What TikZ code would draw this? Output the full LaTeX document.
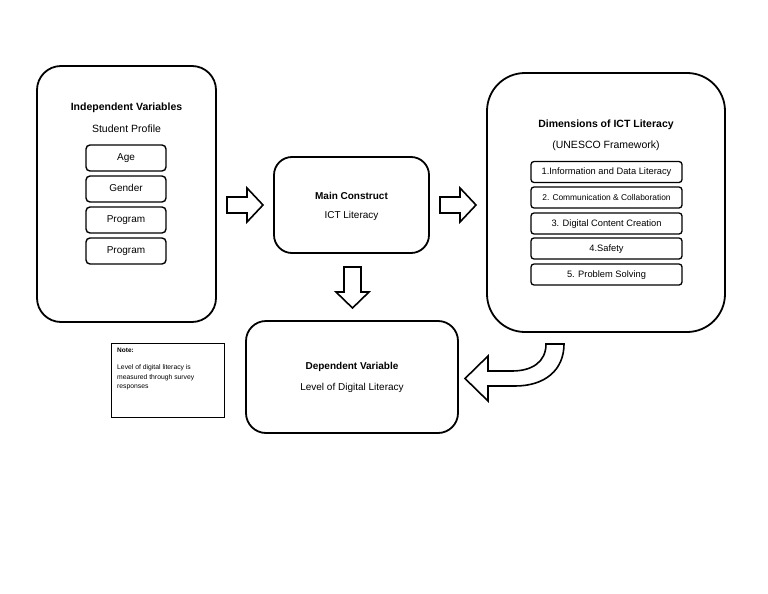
\documentclass[tikz,border=0pt]{standalone}
\usepackage{fontspec}
\setmainfont{Liberation Sans}
\begin{document}
\begin{tikzpicture}[x=1pt,y=-1pt,
  bigbox/.style={draw, line width=1.8pt, rounded corners=#1},
  bigbox/.default=20pt,
  itembox/.style={draw, line width=1.4pt, rounded corners=4pt, minimum width=80pt, minimum height=26pt, inner sep=0pt, text height=7.5pt, text depth=2pt, font=\fontsize{10}{12}\selectfont},
  dimbox/.style={draw, line width=1.3pt, rounded corners=3pt, minimum width=151pt, minimum height=21pt, inner sep=0pt, text height=7pt, text depth=2pt, font=\fontsize{9.3}{11}\selectfont},
  blockarrow/.style={draw, line width=1.6pt, fill=white, line join=miter},
  ttl/.style={font=\bfseries\fontsize{10.5}{12}\selectfont, inner sep=0pt},
  sub/.style={font=\fontsize{10.5}{12}\selectfont, inner sep=0pt}
]
\useasboundingbox (0,0) rectangle (768,594);
\fill[white] (0,0) rectangle (768,594);

% Left box
\draw[bigbox=24pt] (37,66) rectangle (216,322);
\node[ttl] (ivt) at (126.5,108) {Independent Variables};
\node[sub] (ivs) at (126.5,129) {Student Profile};
\node[itembox] (age) at (126,158) {Age};
\node[itembox] (gender) at (126,189) {Gender};
\node[itembox] (prog1) at (126,220) {Program};
\node[itembox] (prog2) at (126,251) {Program};

% Main construct
\draw[bigbox=18pt] (274,157) rectangle (429,253);
\node[ttl, font=\bfseries\fontsize{10}{12}\selectfont] (mct) at (351.5,196) {Main Construct};
\node[sub, font=\fontsize{10}{12}\selectfont] (mcs) at (351.5,216) {ICT Literacy};

% Right box
\draw[bigbox=38pt] (487,73) rectangle (725,332);
\node[ttl] (dimt) at (606,125) {Dimensions of ICT Literacy};
\node[sub] (dims) at (606,146) {(UNESCO Framework)};
\node[dimbox] (d1) at (606.5,172) {1.Information and Data Literacy};
\node[dimbox, font=\fontsize{8.4}{10}\selectfont] (d2) at (606.5,197.5) {2. Communication \& Collaboration};
\node[dimbox] (d3) at (606.5,223.5) {3. Digital Content Creation};
\node[dimbox] (d4) at (606.5,248.5) {4.Safety};
\node[dimbox] (d5) at (606.5,274.5) {5. Problem Solving};

% Dependent box
\draw[bigbox=20pt] (246,321) rectangle (458,433);
\node[ttl, font=\bfseries\fontsize{10}{12}\selectfont] (dvt) at (352,367) {Dependent Variable};
\node[sub, font=\fontsize{10}{12}\selectfont] (dvs) at (352,388) {Level of Digital Literacy};

% Note box
\draw[line width=0.8pt] (111,343) rectangle (224,417);
\node[anchor=north west, inner sep=0pt, font=\bfseries\fontsize{6.5}{8}\selectfont] (notet) at (117,347.5) {Note:};
\node[anchor=north west, inner sep=0pt, align=left, font=\fontsize{6.8}{9.5}\selectfont] (notes) at (117,364.5) {Level of digital literacy is\\measured through survey\\responses};

% Block arrows
\draw[blockarrow] (227,197) -- (247,197) -- (247,188) -- (263,205) -- (247,222) -- (247,213) -- (227,213) -- cycle;
\draw[blockarrow] (440,197) -- (460,197) -- (460,188) -- (476,205) -- (460,222) -- (460,213) -- (440,213) -- cycle;
\draw[blockarrow] (344,267) -- (361,267) -- (361,292) -- (369,292) -- (352.5,308) -- (336,292) -- (344,292) -- cycle;

% Curved arrow
\draw[blockarrow] (546,344) .. controls (546,362) and (532,371) .. (512,371) -- (488,371) -- (488,356) -- (465,378.5) -- (488,401) -- (488,386) -- (515,386) .. controls (545,386) and (564,370) .. (564,344) -- cycle;
\end{tikzpicture}
\end{document}
